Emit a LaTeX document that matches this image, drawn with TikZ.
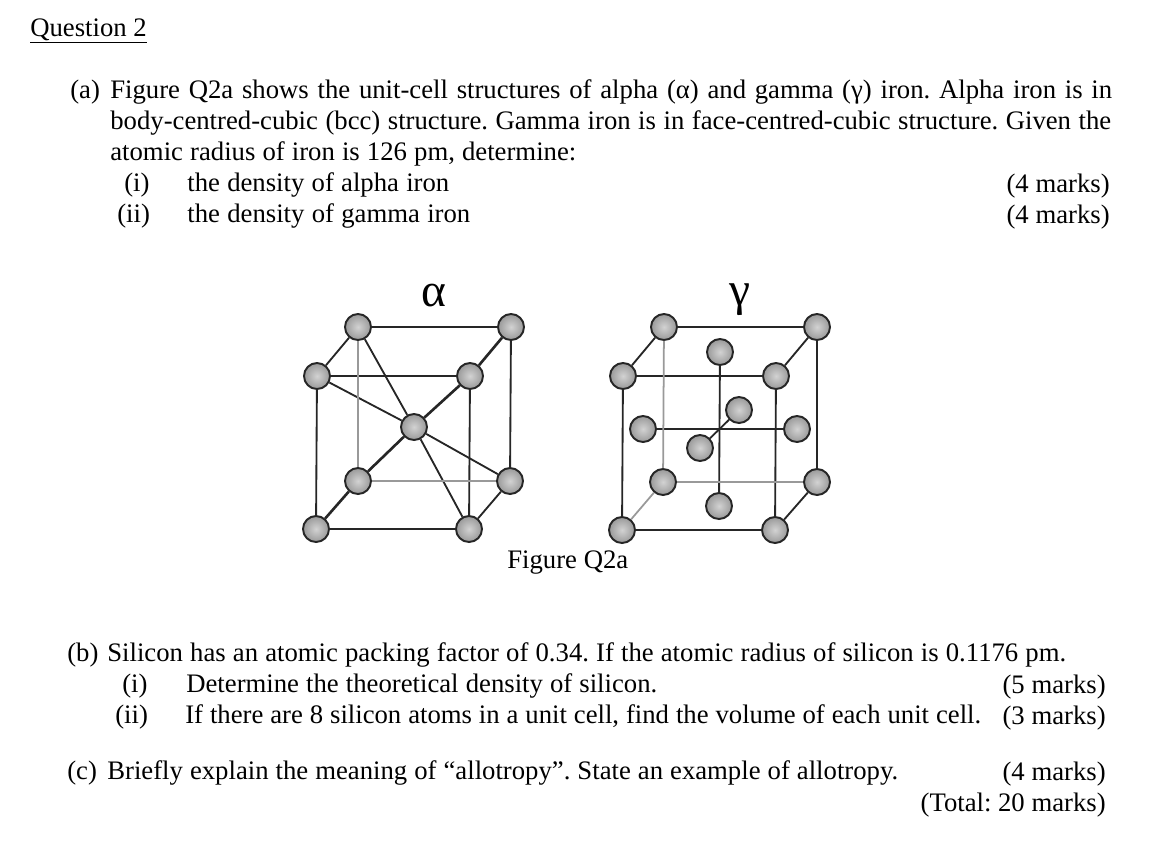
\documentclass[tikz,border=0pt]{standalone}
\usepackage{fontspec}
\setmainfont{Liberation Serif}
\newcommand{\fitline}[2]{\makebox[#1][s]{#2}}
\tikzset{
  txt/.style={anchor=base west,inner sep=0pt,font=\fontsize{15.2}{18}\selectfont\frenchspacing},
  txr/.style={anchor=base east,inner sep=0pt,font=\fontsize{15.2}{18}\selectfont\frenchspacing},
  greek/.style={inner sep=0pt,font=\fontsize{27}{30}\selectfont},
  atom/.style={circle,draw=black!85,line width=1.1pt,minimum size=14.8pt,inner sep=0pt,inner color=gray!35,outer color=gray!80},
  bond/.style={line width=1.05pt,draw=black!85},
  thickbond/.style={line width=1.5pt,draw=black!85},
  backbond/.style={line width=1pt,draw=black!40}
}
\begin{document}
\begin{tikzpicture}[x=0.02cm,y=-0.02cm]
  \useasboundingbox (0,0) rectangle (1169,860);
  % question text
  \node[txt] (q) at (30,36) {\underline{Question 2}};
  \node[txt] (a0) at (70,98) {(a)};
  \node[txt] (a1) at (110,98) {\fitline{20.04cm}{Figure Q2a shows the unit-cell structures of alpha (α) and gamma (γ) iron. Alpha iron is in}};
  \node[txt] (a2) at (110,129) {\fitline{20.02cm}{body-centred-cubic (bcc) structure. Gamma iron is in face-centred-cubic structure. Given the}};
  \node[txt] (a3) at (110,160) {\fitline{9.32cm}{atomic radius of iron is 126 pm, determine:}};
  \node[txt] (ai) at (124,191) {(i)};
  \node[txt] (aitxt) at (187,191) {\fitline{5.24cm}{the density of alpha iron}};
  \node[txr] (aim) at (1110,192) {(4 marks)};
  \node[txt] (aii) at (117,222) {(ii)};
  \node[txt] (aiitxt) at (187,222) {\fitline{5.66cm}{the density of gamma iron}};
  \node[txr] (aiim) at (1110,223) {(4 marks)};
  \node[txt] (fig) at (507,568) {Figure Q2a};
  \node[txt] (b0) at (67,661) {(b)};
  \node[txt] (b1) at (107,661) {\fitline{19.18cm}{Silicon has an atomic packing factor of 0.34. If the atomic radius of silicon is 0.1176 pm.}};
  \node[txt] (bi) at (122,692) {(i)};
  \node[txt] (bitxt) at (186,692) {\fitline{9.42cm}{Determine the theoretical density of silicon.}};
  \node[txr] (bim) at (1106,693) {(5 marks)};
  \node[txt] (bii) at (115,723) {(ii)};
  \node[txt] (biitxt) at (185,723) {\fitline{15.92cm}{If there are 8 silicon atoms in a unit cell, find the volume of each unit cell.}};
  \node[txr] (biim) at (1106,724) {(3 marks)};
  \node[txt] (c0) at (67,779) {(c)};
  \node[txt] (c1) at (107,779) {\fitline{15.82cm}{Briefly explain the meaning of “allotropy”. State an example of allotropy.}};
  \node[txr] (cm) at (1106,780) {(4 marks)};
  \node[txr] (tot) at (1106,811) {(Total: 20 marks)};
  % alpha cell
  \node[greek] (alpha) at (434,296) {α};
  \node[atom] (abtl) at (358,327) {};
  \node[atom] (abtr) at (511,327) {};
  \node[atom] (aftl) at (317,376) {};
  \node[atom] (aftr) at (470,376) {};
  \node[atom] (amid) at (414,427) {};
  \node[atom] (abbl) at (358,481) {};
  \node[atom] (abbr) at (510,481) {};
  \node[atom] (afbl) at (316,529) {};
  \node[atom] (afbr) at (469,529) {};
  \foreach \from/\to in {abtl/abtr,abtl/aftl,aftl/aftr,aftl/afbl,aftr/afbr,abtr/abbr,afbl/afbr,afbr/abbr,
      abtl/amid,aftl/amid,amid/abbr,amid/afbr}
    \draw[bond] (\from) -- (\to);
  \foreach \from/\to in {abtr/aftr,aftr/amid,amid/abbl,abbl/afbl}
    \draw[thickbond] (\from) -- (\to);
  \foreach \from/\to in {abtl/abbl,abbl/abbr}
    \draw[backbond] (\from) -- (\to);
  % gamma cell
  \node[greek] (gamma) at (740,300) {γ};
  \node[atom] (gbtl) at (664,327) {};
  \node[atom] (gbtr) at (817,327) {};
  \node[atom] (gftl) at (623,376) {};
  \node[atom] (gftr) at (776,376) {};
  \node[atom] (gbbl) at (663,482) {};
  \node[atom] (gbbr) at (817,482) {};
  \node[atom] (gfbl) at (622,530) {};
  \node[atom] (gfbr) at (775,530) {};
  \node[atom] (gtop) at (720,352) {};
  \node[atom] (gbot) at (719,506) {};
  \node[atom] (glft) at (643,429) {};
  \node[atom] (grgt) at (797,429) {};
  \node[atom] (gbak) at (739,410) {};
  \node[atom] (gfrt) at (700,448) {};
  \foreach \from/\to in {gbtl/gbtr,gbtl/gftl,gbtr/gftr,gftl/gftr,gftl/gfbl,gftr/gfbr,gbtr/gbbr,gfbl/gfbr,gfbr/gbbr,
      gtop/gbot,glft/grgt,gbak/gfrt}
    \draw[bond] (\from) -- (\to);
  \foreach \from/\to in {gbtl/gbbl,gbbl/gbbr,gbbl/gfbl}
    \draw[backbond] (\from) -- (\to);
\end{tikzpicture}
\end{document}
